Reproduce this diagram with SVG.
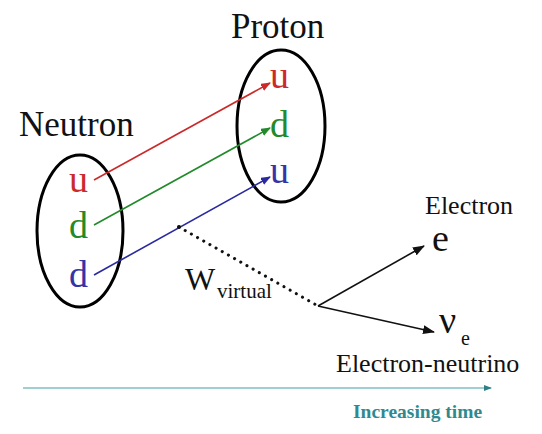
<svg xmlns="http://www.w3.org/2000/svg" width="542" height="434" viewBox="0 0 542 434" font-family="'Liberation Serif', 'Times New Roman', 'DejaVu Serif', serif">
<style>
  .title { font-size: 35px; fill: #111; }
  .q { font-size: 38px; }
  .red { fill: #cc2a2a; }
  .green { fill: #228a2a; }
  .blue { fill: #3434a8; }
  .lbl { font-size: 26px; fill: #111; }
  .hadron { fill: none; stroke: #000; stroke-width: 3; }
  .ln { fill: none; stroke-width: 1.6; }
</style>
<defs>
  <marker id="ar" markerWidth="10" markerHeight="8" refX="9" refY="4" orient="auto" markerUnits="userSpaceOnUse">
    <path d="M0,0 L10,4 L0,8 Z" fill="#cc2a2a"/>
  </marker>
  <marker id="ag" markerWidth="10" markerHeight="8" refX="9" refY="4" orient="auto" markerUnits="userSpaceOnUse">
    <path d="M0,0 L10,4 L0,8 Z" fill="#228a2a"/>
  </marker>
  <marker id="ab" markerWidth="10" markerHeight="8" refX="9" refY="4" orient="auto" markerUnits="userSpaceOnUse">
    <path d="M0,0 L10,4 L0,8 Z" fill="#2a2aa0"/>
  </marker>
  <marker id="ak" markerWidth="12" markerHeight="9" refX="11" refY="4.5" orient="auto" markerUnits="userSpaceOnUse">
    <path d="M0,0 L12,4.5 L0,9 Z" fill="#111"/>
  </marker>
  <marker id="at" markerWidth="8" markerHeight="6" refX="7" refY="3" orient="auto" markerUnits="userSpaceOnUse">
    <path d="M0,0 L8,3 L0,6 Z" fill="#2f7f86"/>
  </marker>
</defs>

<g id="neutron">
  <text class="title" x="19" y="136">Neutron</text>
  <ellipse class="hadron" cx="80" cy="231" rx="43" ry="76"/>
  <text class="q red" x="69" y="192">u</text>
  <text class="q green" x="69" y="238">d</text>
  <text class="q blue" x="69" y="287">d</text>
</g>

<g id="proton">
  <text class="title" x="231" y="38">Proton</text>
  <ellipse class="hadron" cx="281" cy="126" rx="44" ry="76"/>
  <text class="q red" x="270" y="88">u</text>
  <text class="q green" x="270" y="137">d</text>
  <text class="q blue" x="270" y="183">u</text>
</g>

<g id="w-boson">
  <text x="185" y="290" font-size="32" fill="#111">W</text>
  <text x="217" y="298" font-size="21" fill="#111">virtual</text>
</g>

<g id="electron">
  <text class="lbl" x="425" y="214">Electron</text>
  <text x="432" y="251" font-size="38" fill="#111">e</text>
</g>

<g id="neutrino">
  <text x="439" y="333" font-size="38" fill="#111">ν</text>
  <text x="461" y="345" font-size="20" fill="#111">e</text>
  <text class="lbl" x="336" y="372">Electron-neutrino</text>
</g>

<g id="time">
  <text x="353" y="418" font-size="19.5" fill="#2f8a8f" font-weight="bold">Increasing time</text>
</g>

<g id="connectors">
  <line class="ln" x1="94" y1="180" x2="270" y2="83" stroke="#cc2a2a" marker-end="url(#ar)"/>
  <line class="ln" x1="94" y1="225" x2="270" y2="128" stroke="#228a2a" marker-end="url(#ag)"/>
  <line class="ln" x1="94" y1="275" x2="270" y2="177" stroke="#2a2aa0" marker-end="url(#ab)"/>
  <circle cx="179" cy="227" r="2" fill="#111"/>
  <line x1="179" y1="227" x2="318" y2="306" stroke="#111" stroke-width="3" stroke-linecap="round" stroke-dasharray="0.1 7"/>
  <line class="ln" x1="318" y1="306" x2="424" y2="246" stroke="#111" marker-end="url(#ak)"/>
  <line class="ln" x1="318" y1="306" x2="434" y2="332" stroke="#111" marker-end="url(#ak)"/>
  <line x1="23" y1="388" x2="491" y2="388" stroke="#7fbfc2" stroke-width="1.5" marker-end="url(#at)"/>
</g>
</svg>
